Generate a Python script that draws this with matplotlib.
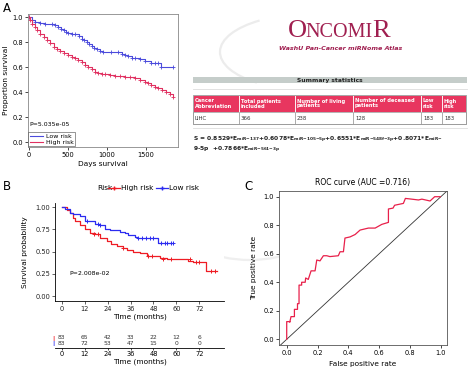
import numpy as np
import matplotlib
matplotlib.use("Agg")
from matplotlib import pyplot as plt
from matplotlib.patches import Rectangle, Arc
from matplotlib.lines import Line2D

W, H = 474, 370

# Panel A - OncomiR KM curves (days)
a_days_low = [0, 40, 85, 150, 212, 296, 340, 381, 415, 445, 480, 508, 550, 593, 640, 678, 710, 741,
              775, 805, 840, 868, 910, 953, 1050, 1144, 1190, 1228, 1270, 1313, 1360, 1419, 1490,
              1567, 1610, 1652, 1694, 1842]
a_surv_low = [1.0, 0.975, 0.965, 0.955, 0.95, 0.947, 0.935, 0.925, 0.91, 0.9, 0.885, 0.877, 0.87,
              0.867, 0.85, 0.83, 0.815, 0.8, 0.785, 0.77, 0.755, 0.744, 0.73, 0.725, 0.722, 0.72,
              0.71, 0.70, 0.69, 0.677, 0.67, 0.664, 0.65, 0.637, 0.633, 0.63, 0.605, 0.605]
a_days_high = [0, 20, 42, 75, 106, 150, 191, 230, 275, 320, 360, 400, 445, 500, 550, 590, 635, 680,
               720, 760, 805, 850, 890, 930, 974, 1040, 1101, 1160, 1228, 1290, 1355, 1420, 1482,
               1525, 1567, 1610, 1652, 1700, 1758, 1800, 1842]
a_surv_high = [1.0, 0.975, 0.95, 0.925, 0.9, 0.87, 0.845, 0.815, 0.79, 0.765, 0.744, 0.73, 0.712,
               0.70, 0.685, 0.675, 0.66, 0.64, 0.62, 0.60, 0.584, 0.565, 0.552, 0.548, 0.544, 0.538,
               0.533, 0.53, 0.525, 0.52, 0.512, 0.50, 0.485, 0.47, 0.459, 0.445, 0.432, 0.42, 0.405,
               0.385, 0.36]
a_pval = "P=5.035e-05"

# Summary table
tbl_header = ["Cancer\nAbbreviation", "Total patients\nincluded", "Number of living\npatients",
              "Number of deceased\npatients", "Low\nrisk", "High\nrisk"]
tbl_row = ["LIHC", "366", "238", "128", "183", "183"]
coefs = ["0.8529", "0.6078", "0.6551", "0.8071", "0.7866"]
mirnas = ["miR{-}137", "miR{-}105{-}5p", "miR{-}548f{-}3p", "miR{-}", "miR{-}561{-}3p"]

# Panel B - KM curves (months)
b_t_high = [0, 2.6, 4.4, 5.7, 7, 9.6, 12.2, 14.8, 17.4, 20, 23.5, 26, 28.7, 32, 34, 37.5, 41, 44.4,
            48, 51.4, 54.9, 66, 68.8, 75.4, 81]
b_s_high = [1.0, 0.97, 0.93, 0.88, 0.84, 0.80, 0.75, 0.71, 0.70, 0.65, 0.62, 0.59, 0.565, 0.54,
            0.52, 0.50, 0.485, 0.455, 0.45, 0.43, 0.42, 0.39, 0.38, 0.285, 0.285]
b_t_low = [0, 1.7, 4.4, 6, 9.6, 12.2, 14.8, 17.4, 20, 22.6, 25.3, 30.5, 33, 34.8, 38.3, 39.2, 50.5, 58]
b_s_low = [1.0, 0.977, 0.94, 0.925, 0.90, 0.85, 0.84, 0.81, 0.80, 0.76, 0.745, 0.725, 0.71, 0.69,
           0.67, 0.65, 0.60, 0.60]
cens_t_high = [17, 19, 32, 45, 47, 53, 57, 67, 70, 72, 78, 80]
cens_s_high = [0.70, 0.70, 0.54, 0.45, 0.45, 0.42, 0.42, 0.42, 0.38, 0.38, 0.285, 0.285]
cens_t_low = [13, 19, 20, 40, 42, 44, 46, 48, 52, 54, 55, 57, 58]
cens_s_low = [0.85, 0.81, 0.80, 0.65, 0.65, 0.65, 0.65, 0.65, 0.60, 0.60, 0.60, 0.60, 0.60]
b_pval = "P=2.008e-02"
risk_times = [0, 12, 24, 36, 48, 60, 72]
risk_high = [83, 65, 42, 33, 22, 12, 6]
risk_low = [83, 72, 53, 47, 15, 0, 0]

# Panel C - ROC
fpr = [0, 0, 0.02, 0.02, 0.028, 0.05, 0.05, 0.07, 0.07, 0.08, 0.08, 0.097, 0.097, 0.12, 0.123,
       0.14, 0.158, 0.184, 0.195, 0.216, 0.238, 0.26, 0.28, 0.335, 0.346, 0.368, 0.378, 0.411,
       0.444, 0.476, 0.53, 0.574, 0.617, 0.66, 0.66, 0.69, 0.70, 0.757, 0.77, 0.81, 0.855, 0.877,
       0.93, 0.96, 0.996]
tpr = [0, 0.124, 0.124, 0.12, 0.159, 0.159, 0.21, 0.21, 0.25, 0.25, 0.38, 0.38, 0.40, 0.40, 0.43,
       0.42, 0.48, 0.48, 0.556, 0.55, 0.586, 0.586, 0.58, 0.586, 0.614, 0.614, 0.71, 0.718, 0.735,
       0.766, 0.78, 0.78, 0.806, 0.82, 0.914, 0.92, 0.94, 0.953, 0.988, 0.983, 0.977, 0.983, 0.97,
       1.0, 1.0]

BLUE_A, RED_A = "#4b4bdc", "#e03060"
BLUE_B, RED_B = "#2b2bf0", "#ee1c24"
LOGO = "#a01f50"
TS = 4.8   # tick label size
LS = 5.3   # axis label size

plt.rcParams["font.family"] = "DejaVu Sans"
fig = plt.figure(figsize=(W / 100, H / 100), dpi=100)


def px_axes(l, t, r, b):
    return fig.add_axes([l / W, 1 - b / H, (r - l) / W, (b - t) / H])


# overlay in pixel coordinates for decorations / text
ov = px_axes(0, 0, W, H)
ov.set_xlim(0, W)
ov.set_ylim(H, 0)
ov.axis("off")

# ---------------- Panel A ----------------
axA = px_axes(28, 14, 178, 147)
axA.step(a_days_low, a_surv_low, where="post", color=BLUE_A, lw=0.8, label="Low risk")
axA.plot(a_days_low, a_surv_low, "+", color=BLUE_A, ms=2.5, mew=0.6)
axA.step(a_days_high, a_surv_high, where="post", color=RED_A, lw=0.8, label="High risk")
axA.plot(a_days_high, a_surv_high, "+", color=RED_A, ms=2.5, mew=0.6)
axA.set_xlim(-8, 1906)
axA.set_ylim(-0.038, 1.026)
axA.set_xticks([0, 500, 1000, 1500])
axA.set_yticks([0, 0.2, 0.4, 0.6, 0.8, 1.0])
axA.set_yticklabels(["0.0", "0.2", "0.4", "0.6", "0.8", "1.0"])
axA.tick_params(labelsize=TS, length=2, width=0.5, pad=1.5)
for s in axA.spines.values():
    s.set_linewidth(0.6)
    s.set_color("#888888")
axA.set_xlabel("Days survival", fontsize=LS, labelpad=2)
axA.set_ylabel("Proportion survival", fontsize=LS, labelpad=2.5)
axA.text(0.01, 0.16, a_pval, transform=axA.transAxes, fontsize=4.5)
legA = axA.legend(loc="lower left", bbox_to_anchor=(-0.003, 0.0), fontsize=4.5, frameon=True,
                  fancybox=False, handlelength=2.2, handletextpad=0.4, borderpad=0.25,
                  labelspacing=0.1, borderaxespad=0.1)
legA.get_frame().set_edgecolor("#444444")
legA.get_frame().set_linewidth(0.5)

# ---------------- Logo + table ----------------
ov.add_patch(Arc((310, 52), 180, 76, theta1=150, theta2=212, color="#ececec", lw=1.6))
ov.add_patch(Arc((250, 150), 240, 220, theta1=62, theta2=118, color="#efefef", lw=1.6))
ov.text(288, 37, "O", fontsize=19, family="Liberation Serif", color=LOGO, va="baseline")
ov.text(305, 37, "NCOMI", fontsize=14.5, family="Liberation Serif", color=LOGO, va="baseline")
ov.text(372, 37, "R", fontsize=19, family="Liberation Serif", color=LOGO, va="baseline")
ov.text(341, 48, "WashU Pan-Cancer miRNome Atlas", fontsize=4.6, color=LOGO,
        fontweight="bold", style="italic", ha="center", va="center")

ov.add_patch(Rectangle((193, 76.7), 274, 6.8, facecolor="#c5cdca", edgecolor="none"))
ov.text(330, 80.2, "Summary statistics", fontsize=4.3, fontweight="bold", ha="center",
        va="center", color="#222222")
ov.plot([193, 467], [89, 89], color="#dddddd", lw=0.6)
ov.plot([193, 467], [128.3, 128.3], color="#dddddd", lw=0.6)

col_edges = [193, 239, 295, 353, 421, 442, 466]
for i in range(len(tbl_header)):
    x0, x1 = col_edges[i], col_edges[i + 1]
    ov.add_patch(Rectangle((x0, 95), x1 - x0, 17, facecolor="#e8365f", edgecolor="white", lw=0.6))
    ov.add_patch(Rectangle((x0, 112), x1 - x0, 12, facecolor="white", edgecolor="#999999", lw=0.5))
    ov.text(x0 + 2, 103.5, tbl_header[i], fontsize=3.7, color="white", fontweight="bold",
            va="center", ha="left", linespacing=1.0)
    ov.text(x0 + 2, 118, tbl_row[i], fontsize=3.9, color="#333333", va="center", ha="left")
ov.add_patch(Rectangle((193, 95), 273, 29, facecolor="none", edgecolor="#999999", lw=0.6))

plt.rcParams["mathtext.default"] = "bf"
terms = ["S = "]
for k, (c, m) in enumerate(zip(coefs, mirnas)):
    if k == 4:
        break
    terms.append(("+" if k else "") + c + "*E$_{\\mathbf{" + m + "}}$")
line1 = "".join(terms)
line2 = "9-5p  +" + coefs[4] + "*E$_{\\mathbf{" + mirnas[4] + "}}$"
ov.text(193, 140, line1, fontsize=4.35, fontweight="bold", color="#222222", va="center")
ov.text(193, 149.5, line2, fontsize=4.35, fontweight="bold", color="#222222", va="center")

# ---------------- Panel B ----------------
axB = px_axes(55, 203, 224, 301)
axB.step(b_t_high, b_s_high, where="post", color=RED_B, lw=0.9)
axB.plot(cens_t_high, cens_s_high, "+", color=RED_B, ms=3, mew=0.7)
axB.step(b_t_low, b_s_low, where="post", color=BLUE_B, lw=0.9)
axB.plot(cens_t_low, cens_s_low, "+", color=BLUE_B, ms=3, mew=0.7)
axB.set_xlim(-3.5, 84.9)
axB.set_ylim(-0.056, 1.048)
axB.set_xticks(risk_times)
axB.set_yticks([0, 0.25, 0.5, 0.75, 1.0])
axB.set_yticklabels(["0.00", "0.25", "0.50", "0.75", "1.00"])
for s in ["top", "right"]:
    axB.spines[s].set_visible(False)
for s in ["left", "bottom"]:
    axB.spines[s].set_linewidth(0.6)
axB.tick_params(labelsize=TS, length=2, width=0.5, pad=1.5, colors="#222222")
axB.set_xlabel("Time (months)", fontsize=LS, labelpad=1.5)
axB.set_ylabel("Survival probability", fontsize=LS, labelpad=5)
axB.text(4, 0.25, b_pval, fontsize=4.5, va="center")

ov.text(97, 188, "Risk", fontsize=5.3, va="center")
hdl = [Line2D([], [], color=RED_B, lw=0.9, marker="+", ms=3),
       Line2D([], [], color=BLUE_B, lw=0.9, marker="+", ms=3)]
fig.legend(hdl, ["High risk", "Low risk"], ncol=2, loc="center left",
           bbox_to_anchor=(108 / W, 1 - 188 / H), fontsize=5.3, frameon=False,
           handlelength=1.6, handletextpad=0.2, columnspacing=0.3, borderpad=0, borderaxespad=0)

# risk table
axR = px_axes(55, 333, 224, 348)
for i, t in enumerate(risk_times):
    axR.text(t, 2, str(risk_high[i]), fontsize=4.3, ha="center", va="center", color="#333333")
    axR.text(t, 1, str(risk_low[i]), fontsize=4.3, ha="center", va="center", color="#333333")
axR.set_xlim(-3.5, 84.9)
axR.set_ylim(0.16, 2.84)
axR.set_xticks(risk_times)
axR.set_yticks([1, 2])
axR.set_yticklabels(["|", "|"], fontsize=4.5, fontweight="bold")
for lbl, col in zip(axR.get_yticklabels(), [BLUE_B, RED_B]):
    lbl.set_color(col)
axR.tick_params(axis="y", length=0, pad=0.5)
axR.tick_params(axis="x", labelsize=TS, length=1.5, width=0.5, pad=0.8)
for s in ["top", "right", "left"]:
    axR.spines[s].set_visible(False)
axR.spines["bottom"].set_linewidth(0.6)
axR.set_xlabel("Time (months)", fontsize=LS, labelpad=1)
axR.patch.set_visible(False)

# ---------------- Panel C ----------------
axC = px_axes(279, 191, 447, 345)
axC.plot([-0.1, 1.1], [-0.1, 1.1], color="#333333", lw=0.6)
axC.plot(fpr, tpr, color="#e8204a", lw=0.9)
axC.set_xlim(-0.05, 1.04)
axC.set_ylim(-0.04, 1.04)
ticks = [0, 0.2, 0.4, 0.6, 0.8, 1.0]
axC.set_xticks(ticks)
axC.set_yticks(ticks)
axC.set_xticklabels(["0.0", "0.2", "0.4", "0.6", "0.8", "1.0"])
axC.set_yticklabels(["0.0", "0.2", "0.4", "0.6", "0.8", "1.0"])
axC.tick_params(labelsize=TS, length=2, width=0.5, pad=1.5)
for s in axC.spines.values():
    s.set_linewidth(0.6)
    s.set_color("#555555")
axC.set_xlabel("False positive rate", fontsize=LS, labelpad=4)
axC.set_ylabel("True positive rate", fontsize=LS, labelpad=5)
axC.set_title("ROC curve (AUC =0.716)", fontsize=5.5, pad=4)

# panel letters
ov.text(3, 8, "A", fontsize=8.5, va="center")
ov.text(3, 187, "B", fontsize=8.5, va="center")
ov.text(244, 186, "C", fontsize=8.5, va="center")

fig.savefig("out.png", dpi=100)
